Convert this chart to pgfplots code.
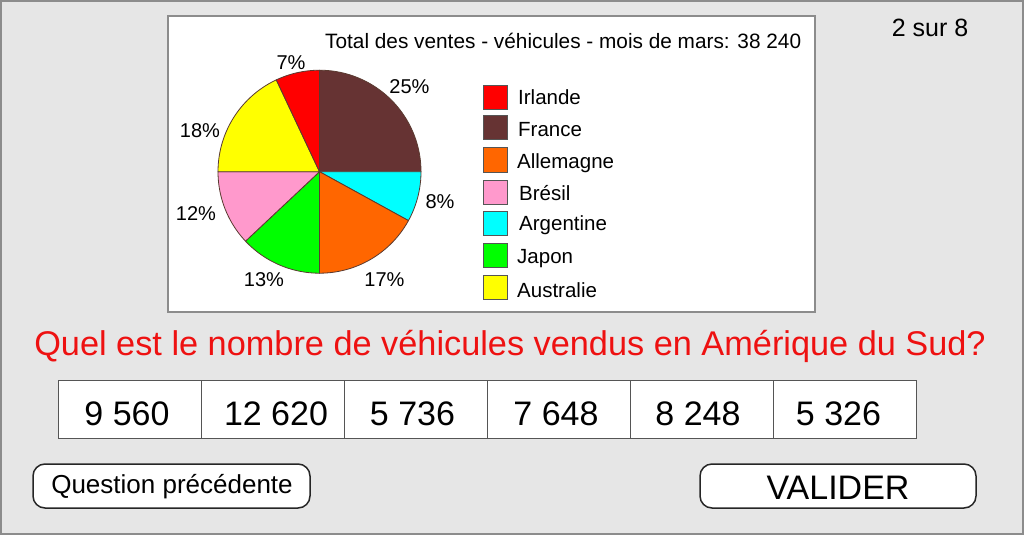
\documentclass[border=0pt]{standalone}
\usepackage{pgfplots}
\pgfplotsset{compat=1.18}
\usepackage{fontspec}
\setmainfont{Liberation Sans}
\definecolor{bg}{HTML}{E6E6E6}
\definecolor{frame}{HTML}{8C8C8C}
\definecolor{boxline}{HTML}{555555}
\definecolor{pieline}{HTML}{5A3A30}
\definecolor{cIr}{HTML}{FF0000}
\definecolor{cFr}{HTML}{663333}
\definecolor{cAl}{HTML}{FF6600}
\definecolor{cBr}{HTML}{FF99CC}
\definecolor{cAr}{HTML}{00FFFF}
\definecolor{cJa}{HTML}{00FF00}
\definecolor{cAu}{HTML}{FFFF00}
\definecolor{qred}{HTML}{EE1111}
\newcommand\fs[1]{\fontsize{#1}{#1}\selectfont}
\begin{document}
\begin{tikzpicture}
\begin{axis}[x=1pt,y=1pt,xmin=0,xmax=1024,ymin=0,ymax=535,y dir=reverse,
  hide axis,clip=false]
% background
\fill[bg] (axis cs:0,0) rectangle (axis cs:1024,535);
\draw[frame,line width=2pt] (axis cs:1,1) rectangle (axis cs:1023,534);
% chart box
\draw[fill=white,draw=frame,line width=1.5pt] (axis cs:168,16) rectangle (axis cs:815,312);
\node[anchor=base west,inner sep=0pt,font=\fs{20.8}] at (axis cs:325,48.5) {Total des ventes - véhicules - mois de mars: 38 240};
% pie slices (percent -> angle, clockwise from top)
\addplot[fill=cFr,draw=pieline,line width=0.8pt,domain=0:90,samples=60] ({319.5+101.5*cos(x)},{171.7-101.5*sin(x)}) -- (axis cs:319.5,171.7) -- cycle;
\addplot[fill=cAr,draw=pieline,line width=0.8pt,domain=-28.8:0,samples=30] ({319.5+101.5*cos(x)},{171.7-101.5*sin(x)}) -- (axis cs:319.5,171.7) -- cycle;
\addplot[fill=cAl,draw=pieline,line width=0.8pt,domain=-90:-28.8,samples=50] ({319.5+101.5*cos(x)},{171.7-101.5*sin(x)}) -- (axis cs:319.5,171.7) -- cycle;
\addplot[fill=cJa,draw=pieline,line width=0.8pt,domain=-136.8:-90,samples=40] ({319.5+101.5*cos(x)},{171.7-101.5*sin(x)}) -- (axis cs:319.5,171.7) -- cycle;
\addplot[fill=cBr,draw=pieline,line width=0.8pt,domain=-180:-136.8,samples=40] ({319.5+101.5*cos(x)},{171.7-101.5*sin(x)}) -- (axis cs:319.5,171.7) -- cycle;
\addplot[fill=cAu,draw=pieline,line width=0.8pt,domain=-244.8:-180,samples=50] ({319.5+101.5*cos(x)},{171.7-101.5*sin(x)}) -- (axis cs:319.5,171.7) -- cycle;
\addplot[fill=cIr,draw=pieline,line width=0.8pt,domain=-270:-244.8,samples=30] ({319.5+101.5*cos(x)},{171.7-101.5*sin(x)}) -- (axis cs:319.5,171.7) -- cycle;
% percent labels
\begin{scope}[every node/.style={inner sep=0pt,font=\fs{20}}]
\node at (axis cs:291,62.5) {7\%};
\node at (axis cs:409.5,87) {25\%};
\node at (axis cs:200,131) {18\%};
\node at (axis cs:440,202) {8\%};
\node at (axis cs:196,213.5) {12\%};
\node at (axis cs:264,279.5) {13\%};
\node at (axis cs:384.5,279.5) {17\%};
\end{scope}
% legend
\begin{scope}[every node/.style={anchor=base west,inner sep=0pt,font=\fs{20.5}}]
\draw[fill=cIr,draw=boxline] (axis cs:483,85) rectangle (axis cs:507,109);
\node at (axis cs:518,104) {Irlande};
\draw[fill=cFr,draw=boxline] (axis cs:483,115) rectangle (axis cs:507,139);
\node at (axis cs:518,136) {France};
\draw[fill=cAl,draw=boxline] (axis cs:483,147) rectangle (axis cs:507,172);
\node at (axis cs:517,168) {Allemagne};
\draw[fill=cBr,draw=boxline] (axis cs:483,180) rectangle (axis cs:507,204);
\node at (axis cs:519,200.5) {Brésil};
\draw[fill=cAr,draw=boxline] (axis cs:483,211) rectangle (axis cs:507,235);
\node at (axis cs:519,230.5) {Argentine};
\draw[fill=cJa,draw=boxline] (axis cs:483,243) rectangle (axis cs:507,267);
\node at (axis cs:517,263) {Japon};
\draw[fill=cAu,draw=boxline] (axis cs:483,275) rectangle (axis cs:507,299);
\node at (axis cs:517,297.5) {Australie};
\end{scope}
% page counter
\node[inner sep=0pt,font=\fs{25}] at (axis cs:930,28) {2 sur 8};
% question
\node[anchor=base,inner sep=0pt,font=\fs{34.3},text=qred] at (axis cs:510,355) {Quel est le nombre de véhicules vendus en Amérique du Sud?};
% answer boxes
\draw[fill=white,draw=boxline,line width=1pt] (axis cs:58,380) rectangle (axis cs:916,438);
\draw[boxline,line width=1pt] (axis cs:201,380) -- (axis cs:201,438);
\draw[boxline,line width=1pt] (axis cs:344,380) -- (axis cs:344,438);
\draw[boxline,line width=1pt] (axis cs:487,380) -- (axis cs:487,438);
\draw[boxline,line width=1pt] (axis cs:630,380) -- (axis cs:630,438);
\draw[boxline,line width=1pt] (axis cs:773,380) -- (axis cs:773,438);
\begin{scope}[every node/.style={anchor=base,inner sep=0pt,font=\fs{34}}]
\node at (axis cs:127,425) {9 560};
\node at (axis cs:276,425) {12 620};
\node at (axis cs:412.5,425) {5 736};
\node at (axis cs:556,425) {7 648};
\node at (axis cs:698,425) {8 248};
\node at (axis cs:838.5,425) {5 326};
\end{scope}
% buttons
\draw[fill=white,draw=black!85,line width=1.5pt,rounded corners=12pt] (axis cs:33,464) rectangle (axis cs:310,508);
\node[anchor=base,inner sep=0pt,font=\fs{26}] at (axis cs:172,493) {Question précédente};
\draw[fill=white,draw=black!85,line width=1.5pt,rounded corners=12pt] (axis cs:700,464) rectangle (axis cs:976,508);
\node[anchor=base,inner sep=0pt,font=\fs{34}] at (axis cs:838,499) {VALIDER};
\end{axis}
\end{tikzpicture}
\end{document}
